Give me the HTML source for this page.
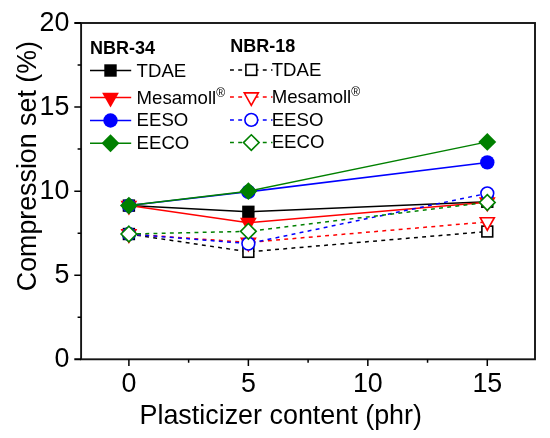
<!DOCTYPE html>
<html><head><meta charset="utf-8"><style>
html,body{margin:0;padding:0;background:#fff;width:550px;height:438px;overflow:hidden}
svg{display:block}
</style></head><body>
<svg width="550" height="438" viewBox="0 0 550 438">
<rect x="0" y="0" width="550" height="438" fill="#fff"/>
<polyline points="128.90,205.61 248.37,211.83 487.29,201.74" fill="none" stroke="#000000" stroke-width="1.5"/>
<rect x="122.70" y="199.41" width="12.40" height="12.40" fill="#000000" stroke="#000000" stroke-width="0"/>
<rect x="242.17" y="205.63" width="12.40" height="12.40" fill="#000000" stroke="#000000" stroke-width="0"/>
<rect x="481.09" y="195.54" width="12.40" height="12.40" fill="#000000" stroke="#000000" stroke-width="0"/>
<polyline points="128.90,205.61 248.37,222.76 487.29,202.25" fill="none" stroke="#ff0000" stroke-width="1.5"/>
<polygon points="120.50,200.64 137.30,200.64 128.90,215.54" fill="#ff0000" stroke="#ff0000" stroke-width="0" stroke-linejoin="miter"/>
<polygon points="239.97,217.80 256.76,217.80 248.37,232.70" fill="#ff0000" stroke="#ff0000" stroke-width="0" stroke-linejoin="miter"/>
<polygon points="478.89,197.28 495.69,197.28 487.29,212.18" fill="#ff0000" stroke="#ff0000" stroke-width="0" stroke-linejoin="miter"/>
<polyline points="128.90,205.61 248.37,191.82 487.29,162.40" fill="none" stroke="#0000ff" stroke-width="1.5"/>
<circle cx="128.90" cy="205.61" r="7.20" fill="#0000ff" stroke="#0000ff" stroke-width="0"/>
<circle cx="248.37" cy="191.82" r="7.20" fill="#0000ff" stroke="#0000ff" stroke-width="0"/>
<circle cx="487.29" cy="162.40" r="7.20" fill="#0000ff" stroke="#0000ff" stroke-width="0"/>
<polyline points="128.90,205.61 248.37,191.15 487.29,141.88" fill="none" stroke="#008000" stroke-width="1.5"/>
<polygon points="128.90,196.66 137.85,205.61 128.90,214.56 119.95,205.61" fill="#008000" stroke="#008000" stroke-width="0"/>
<polygon points="248.37,182.20 257.31,191.15 248.37,200.10 239.42,191.15" fill="#008000" stroke="#008000" stroke-width="0"/>
<polygon points="487.29,132.93 496.24,141.88 487.29,150.83 478.34,141.88" fill="#008000" stroke="#008000" stroke-width="0"/>
<polyline points="128.90,234.03 248.37,251.85 487.29,231.51" fill="none" stroke="#000000" stroke-width="1.5" stroke-dasharray="3.9 4.3" stroke-dashoffset="0"/>
<rect x="123.50" y="228.63" width="10.80" height="10.80" fill="#fff" stroke="#000000" stroke-width="1.6"/>
<rect x="242.97" y="246.45" width="10.80" height="10.80" fill="#fff" stroke="#000000" stroke-width="1.6"/>
<rect x="481.89" y="226.11" width="10.80" height="10.80" fill="#fff" stroke="#000000" stroke-width="1.6"/>
<polyline points="128.90,234.03 248.37,242.44 487.29,221.92" fill="none" stroke="#ff0000" stroke-width="1.5" stroke-dasharray="3.9 4.3" stroke-dashoffset="0"/>
<polygon points="121.86,229.86 135.94,229.86 128.90,242.36" fill="#fff" stroke="#ff0000" stroke-width="1.6" stroke-linejoin="miter"/>
<polygon points="241.33,238.27 255.41,238.27 248.37,250.77" fill="#fff" stroke="#ff0000" stroke-width="1.6" stroke-linejoin="miter"/>
<polygon points="480.25,217.75 494.33,217.75 487.29,230.25" fill="#fff" stroke="#ff0000" stroke-width="1.6" stroke-linejoin="miter"/>
<polyline points="128.90,234.03 248.37,243.61 487.29,193.34" fill="none" stroke="#0000ff" stroke-width="1.5" stroke-dasharray="3.9 4.3" stroke-dashoffset="0"/>
<circle cx="128.90" cy="234.03" r="6.40" fill="#fff" stroke="#0000ff" stroke-width="1.6"/>
<circle cx="248.37" cy="243.61" r="6.40" fill="#fff" stroke="#0000ff" stroke-width="1.6"/>
<circle cx="487.29" cy="193.34" r="6.40" fill="#fff" stroke="#0000ff" stroke-width="1.6"/>
<polyline points="128.90,234.03 248.37,231.34 487.29,202.42" fill="none" stroke="#008000" stroke-width="1.5" stroke-dasharray="3.9 4.3" stroke-dashoffset="0"/>
<polygon points="128.90,226.20 136.73,234.03 128.90,241.86 121.07,234.03" fill="#fff" stroke="#008000" stroke-width="1.6"/>
<polygon points="248.37,223.51 256.19,231.34 248.37,239.17 240.53,231.34" fill="#fff" stroke="#008000" stroke-width="1.6"/>
<polygon points="487.29,194.59 495.12,202.42 487.29,210.25 479.46,202.42" fill="#fff" stroke="#008000" stroke-width="1.6"/>
<rect x="81.1" y="23.0" width="453.90" height="336.30" fill="none" stroke="#141414" stroke-width="1.9"/>
<path d="M74.30,23.00H81.10M74.30,359.30H81.10" stroke="#000" stroke-width="1.9" fill="none"/>
<path d="M74.30,275.23H81.10M74.30,191.15H81.10M74.30,107.07H81.10M77.60,317.26H81.10M77.60,233.19H81.10M77.60,149.11H81.10M77.60,65.04H81.10M128.90,359.30V366.10M248.37,359.30V366.10M367.83,359.30V366.10M487.29,359.30V366.10M188.63,359.30V362.80M308.10,359.30V362.80M427.56,359.30V362.80" stroke="#000" stroke-width="1.5" fill="none"/>
<text x="69.30" y="367.40" font-family="&quot;Liberation Sans&quot;, sans-serif" font-size="26.8" text-anchor="end">0</text>
<text x="69.30" y="283.33" font-family="&quot;Liberation Sans&quot;, sans-serif" font-size="26.8" text-anchor="end">5</text>
<text x="69.30" y="199.25" font-family="&quot;Liberation Sans&quot;, sans-serif" font-size="26.8" text-anchor="end">10</text>
<text x="69.30" y="115.17" font-family="&quot;Liberation Sans&quot;, sans-serif" font-size="26.8" text-anchor="end">15</text>
<text x="69.30" y="31.10" font-family="&quot;Liberation Sans&quot;, sans-serif" font-size="26.8" text-anchor="end">20</text>
<text x="128.90" y="391.80" font-family="&quot;Liberation Sans&quot;, sans-serif" font-size="26.8" text-anchor="middle">0</text>
<text x="248.37" y="391.80" font-family="&quot;Liberation Sans&quot;, sans-serif" font-size="26.8" text-anchor="middle">5</text>
<text x="367.83" y="391.80" font-family="&quot;Liberation Sans&quot;, sans-serif" font-size="26.8" text-anchor="middle">10</text>
<text x="487.29" y="391.80" font-family="&quot;Liberation Sans&quot;, sans-serif" font-size="26.8" text-anchor="middle">15</text>
<text x="139.5" y="424" font-family="&quot;Liberation Sans&quot;, sans-serif" font-size="26.9">Plasticizer content (phr)</text>
<text transform="translate(35.6,291.2) rotate(-90)" font-family="&quot;Liberation Sans&quot;, sans-serif" font-size="26.8">Compression set (%)</text>
<text x="90.1" y="53.7" font-family="&quot;Liberation Sans&quot;, sans-serif" font-size="18" font-weight="bold">NBR-34</text>
<text x="230.3" y="52.4" font-family="&quot;Liberation Sans&quot;, sans-serif" font-size="18" font-weight="bold">NBR-18</text>
<path d="M90,70.5H131.2" stroke="#000000" stroke-width="1.5"/>
<rect x="104.30" y="64.30" width="12.40" height="12.40" fill="#000000" stroke="#000000" stroke-width="0"/>
<text x="136.6" y="77.1" font-family="&quot;Liberation Sans&quot;, sans-serif" font-size="18.6">TDAE</text>
<path d="M230,69.9H272.5" stroke="#000000" stroke-width="1.5" stroke-dasharray="3.9 4.3"/>
<rect x="245.90" y="64.50" width="10.80" height="10.80" fill="#fff" stroke="#000000" stroke-width="1.6"/>
<text x="271.7" y="76.3" font-family="&quot;Liberation Sans&quot;, sans-serif" font-size="18.6">TDAE</text>
<path d="M90,97.6H131.2" stroke="#ff0000" stroke-width="1.5"/>
<polygon points="102.10,92.63 118.90,92.63 110.50,107.53" fill="#ff0000" stroke="#ff0000" stroke-width="0" stroke-linejoin="miter"/>
<text x="136.6" y="103.7" font-family="&quot;Liberation Sans&quot;, sans-serif" font-size="18.6">Mesamoll<tspan font-size="12" dy="-7">®</tspan></text>
<path d="M230,97.0H272.5" stroke="#ff0000" stroke-width="1.5" stroke-dasharray="3.9 4.3"/>
<polygon points="244.26,92.83 258.34,92.83 251.30,105.33" fill="#fff" stroke="#ff0000" stroke-width="1.6" stroke-linejoin="miter"/>
<text x="271.7" y="102.9" font-family="&quot;Liberation Sans&quot;, sans-serif" font-size="18.6">Mesamoll<tspan font-size="12" dy="-7">®</tspan></text>
<path d="M90,120.5H131.2" stroke="#0000ff" stroke-width="1.5"/>
<circle cx="110.50" cy="120.50" r="7.20" fill="#0000ff" stroke="#0000ff" stroke-width="0"/>
<text x="136.6" y="126.1" font-family="&quot;Liberation Sans&quot;, sans-serif" font-size="18.6">EESO</text>
<path d="M230,119.9H272.5" stroke="#0000ff" stroke-width="1.5" stroke-dasharray="3.9 4.3"/>
<circle cx="251.30" cy="119.90" r="6.40" fill="#fff" stroke="#0000ff" stroke-width="1.6"/>
<text x="271.7" y="125.6" font-family="&quot;Liberation Sans&quot;, sans-serif" font-size="18.6">EESO</text>
<path d="M90,143.2H131.2" stroke="#008000" stroke-width="1.5"/>
<polygon points="110.50,134.25 119.45,143.20 110.50,152.15 101.55,143.20" fill="#008000" stroke="#008000" stroke-width="0"/>
<text x="136.6" y="148.6" font-family="&quot;Liberation Sans&quot;, sans-serif" font-size="18.6">EECO</text>
<path d="M230,142.6H272.5" stroke="#008000" stroke-width="1.5" stroke-dasharray="3.9 4.3"/>
<polygon points="251.30,134.77 259.13,142.60 251.30,150.43 243.47,142.60" fill="#fff" stroke="#008000" stroke-width="1.6"/>
<text x="271.7" y="148.4" font-family="&quot;Liberation Sans&quot;, sans-serif" font-size="18.6">EECO</text>
</svg>
</body></html>
